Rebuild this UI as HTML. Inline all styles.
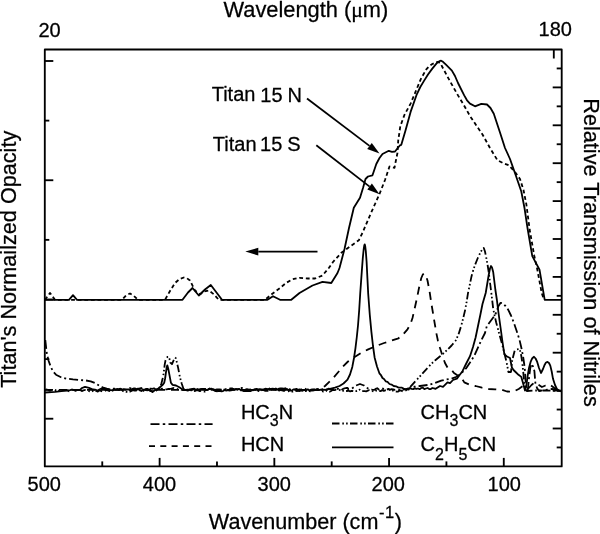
<!DOCTYPE html>
<html><head><meta charset="utf-8"><title>Titan opacity and nitrile transmission</title>
<style>html,body{margin:0;padding:0;background:#fff}svg{display:block}</style></head>
<body>
<svg width="600" height="534" viewBox="0 0 600 534">
<rect width="600" height="534" fill="#fff"/>
<g fill="none" stroke="#000" stroke-width="1.85" stroke-linejoin="round">
<rect x="44.8" y="49.5" width="516.9000000000001" height="416.9"/>
<line x1="102.26" y1="466.4" x2="102.26" y2="461.4"/><line x1="159.62" y1="466.4" x2="159.62" y2="457.9"/><line x1="216.98" y1="466.4" x2="216.98" y2="461.4"/><line x1="274.34" y1="466.4" x2="274.34" y2="457.9"/><line x1="331.70" y1="466.4" x2="331.70" y2="461.4"/><line x1="389.06" y1="466.4" x2="389.06" y2="457.9"/><line x1="446.42" y1="466.4" x2="446.42" y2="461.4"/><line x1="503.78" y1="466.4" x2="503.78" y2="457.9"/><line x1="553.8" y1="49.5" x2="553.8" y2="58.5"/><line x1="44.8" y1="61.00" x2="53.3" y2="61.00"/><line x1="44.8" y1="120.62" x2="49.3" y2="120.62"/><line x1="44.8" y1="180.24" x2="53.3" y2="180.24"/><line x1="44.8" y1="239.86" x2="49.3" y2="239.86"/><line x1="44.8" y1="299.48" x2="53.3" y2="299.48"/><line x1="44.8" y1="359.10" x2="49.3" y2="359.10"/><line x1="44.8" y1="418.72" x2="53.3" y2="418.72"/><line x1="561.7" y1="68.45" x2="556.7" y2="68.45"/><line x1="561.7" y1="87.40" x2="552.7" y2="87.40"/><line x1="561.7" y1="106.35" x2="556.7" y2="106.35"/><line x1="561.7" y1="125.30" x2="552.7" y2="125.30"/><line x1="561.7" y1="144.25" x2="556.7" y2="144.25"/><line x1="561.7" y1="163.20" x2="552.7" y2="163.20"/><line x1="561.7" y1="182.15" x2="556.7" y2="182.15"/><line x1="561.7" y1="201.10" x2="552.7" y2="201.10"/><line x1="561.7" y1="220.05" x2="556.7" y2="220.05"/><line x1="561.7" y1="239.00" x2="552.7" y2="239.00"/><line x1="561.7" y1="257.95" x2="556.7" y2="257.95"/><line x1="561.7" y1="276.90" x2="552.7" y2="276.90"/><line x1="561.7" y1="295.85" x2="556.7" y2="295.85"/><line x1="561.7" y1="314.80" x2="552.7" y2="314.80"/><line x1="561.7" y1="333.75" x2="556.7" y2="333.75"/><line x1="561.7" y1="352.70" x2="552.7" y2="352.70"/><line x1="561.7" y1="371.65" x2="556.7" y2="371.65"/><line x1="561.7" y1="390.60" x2="552.7" y2="390.60"/><line x1="561.7" y1="409.55" x2="556.7" y2="409.55"/><line x1="561.7" y1="428.50" x2="552.7" y2="428.50"/><line x1="561.7" y1="447.45" x2="556.7" y2="447.45"/>
</g>
<g fill="none" stroke="#000" stroke-width="1.8" stroke-linejoin="round" stroke-linecap="butt">
<polyline points="45.0,299.8 69.0,299.8 73.0,295.2 77.0,299.8 182.5,299.8 188.0,292.5 192.5,288.0 198.8,295.5 205.0,289.5 210.8,285.0 216.5,292.5 222.0,299.8 267.5,299.8 273.0,296.2 280.0,299.8 291.3,299.8 299.5,293.0 312.5,285.5 322.5,281.8 331.3,283.0 337.5,273.0 339.5,268.0 344.5,249.0 349.0,228.0 353.8,207.8 360.0,197.8 363.0,188.0 365.5,179.0 368.0,176.5 372.5,175.3 376.3,164.0 379.5,158.0 382.5,154.0 388.8,150.8 392.0,151.8 395.0,151.5 400.0,145.3 401.3,144.8 405.5,130.4 410.6,111.9 416.8,94.3 420.3,87.0 424.0,80.9 428.0,74.5 432.3,68.6 437.4,62.4 439.5,61.2 441.1,60.7 443.0,61.8 445.7,64.4 451.9,70.6 455.0,76.0 458.0,83.0 464.2,95.4 467.0,100.3 470.0,103.6 475.0,106.3 481.3,103.8 487.0,104.5 490.5,108.0 493.8,113.8 500.0,132.5 505.0,148.0 510.0,159.0 516.0,176.0 521.3,191.5 524.5,208.0 527.5,228.0 532.3,256.2 539.5,269.7 544.7,299.8 561.6,299.8" />
<polyline points="45.0,299.8 47.0,297.0 50.0,293.0 53.0,297.0 55.0,299.8 122.0,299.8 126.0,295.5 130.0,293.5 134.0,296.0 138.0,299.8 165.0,299.8 170.0,291.0 175.0,283.0 179.5,279.0 183.8,277.5 187.0,278.3 190.0,280.5 195.0,290.5 200.0,294.3 204.5,291.5 208.8,290.5 213.8,294.3 218.8,299.8 265.0,299.8 272.0,294.0 280.0,288.0 286.0,283.0 292.5,279.3 299.5,277.8 308.0,278.5 315.0,278.5 322.5,275.5 328.8,268.0 333.0,262.0 341.3,252.8 350.0,246.5 358.8,240.3 362.5,232.8 371.0,213.0 379.5,194.0 385.0,180.0 389.5,166.5 394.5,167.8 396.0,160.0 397.5,152.8 398.2,140.7 400.3,126.3 404.4,115.0 410.6,103.6 415.8,91.2 420.9,78.9 426.1,69.6 429.0,66.3 432.3,64.0 436.0,62.3 438.5,62.0 440.5,63.5 442.6,67.5 449.8,80.9 458.0,95.4 464.2,105.7 470.0,116.0 476.0,125.0 482.5,134.5 490.0,148.0 497.5,160.3 503.0,163.0 508.8,165.3 515.0,172.0 520.0,179.0 523.5,190.0 526.3,204.0 529.7,230.0 534.2,255.5 537.2,269.0 541.7,293.0 544.0,299.8" stroke-dasharray="3.8 2.8"/>
<polyline points="45.0,392.5 55.0,391.8 70.0,390.2 72.0,389.7 73.6,389.9 75.2,390.6 76.8,390.1 78.4,390.0 80.0,390.0 80.0,389.8 82.0,388.0 85.0,386.8 89.0,387.8 93.0,389.5 95.0,389.7 96.6,390.1 98.2,390.3 99.8,389.3 101.4,388.6 103.0,388.9 104.6,388.9 106.2,390.0 107.8,390.3 109.4,390.2 111.0,390.1 112.6,390.3 114.2,389.3 115.8,389.4 117.4,388.9 119.0,390.2 120.6,389.1 122.2,390.1 123.8,389.1 125.4,389.8 127.0,389.5 128.6,389.4 130.2,390.3 131.8,389.1 133.4,388.5 135.0,390.0 136.6,389.9 138.2,389.0 139.8,390.4 141.4,391.0 143.0,389.6 144.6,389.6 146.2,388.9 147.8,389.0 149.4,389.6 150.0,389.8 152.4,392.0 154.5,390.5 156.9,389.4 159.0,388.0 161.3,386.0 163.0,384.5 164.2,382.7 165.1,378.5 165.8,373.7 166.6,368.0 167.3,365.3 168.2,368.5 169.2,373.7 170.9,382.7 172.6,384.9 176.0,385.5 179.3,387.2 182.7,389.4 183.0,389.3 184.6,389.9 186.2,390.2 187.8,390.7 189.4,389.6 191.0,389.2 192.6,388.8 194.2,388.7 195.8,389.7 197.4,389.0 199.0,389.5 200.6,389.1 202.2,389.0 203.8,389.3 205.4,390.2 207.0,390.2 208.6,389.0 210.2,389.0 211.8,388.7 213.4,390.0 215.0,390.5 216.6,390.8 218.2,391.0 219.8,390.9 221.4,391.3 223.0,391.1 224.6,390.0 226.2,390.6 227.8,390.2 229.4,390.5 231.0,390.3 232.6,389.9 234.2,389.6 235.8,389.5 237.4,389.3 239.0,388.8 240.6,389.9 242.2,390.5 243.8,391.1 245.4,390.9 247.0,390.4 248.6,390.6 250.2,389.5 251.8,390.0 253.4,389.8 255.0,389.1 256.6,388.9 258.2,389.4 259.8,389.1 261.4,389.4 263.0,389.8 264.6,389.6 266.2,388.9 267.8,389.4 269.4,389.0 271.0,388.9 272.6,388.7 274.2,389.0 275.8,388.5 277.4,389.5 279.0,390.6 280.6,390.0 282.2,390.3 283.8,390.9 285.4,389.4 287.0,388.9 288.6,390.0 290.2,390.6 291.8,390.5 293.4,389.4 295.0,389.4 296.6,390.4 298.2,390.9 299.8,391.0 301.4,389.8 303.0,390.5 304.6,389.9 306.2,390.3 307.8,389.3 309.4,390.5 311.0,390.4 312.6,390.5 314.2,389.6 315.8,389.9 317.4,390.0 319.0,390.1 320.6,389.7 322.2,390.2 323.8,389.7 325.0,389.8 330.0,388.8 335.0,387.6 339.5,386.0 343.5,383.5 347.5,379.7 350.0,374.5 352.3,366.9 354.0,358.0 355.5,347.8 356.8,337.0 358.0,325.5 359.2,310.0 360.2,293.7 361.8,271.4 362.8,258.0 363.6,250.0 364.2,245.8 364.7,244.3 365.2,246.0 365.8,251.0 366.6,261.8 367.4,278.0 368.2,293.7 369.8,315.0 371.4,331.9 373.0,346.0 374.6,357.4 377.0,366.5 379.4,373.3 381.0,375.2 382.5,378.0 384.0,379.0 385.7,381.3 387.5,381.8 389.5,384.0 391.5,384.6 393.7,386.0 396.0,386.3 398.5,387.6 400.0,387.6 402.0,387.7 403.6,388.6 405.2,389.0 406.8,389.8 408.4,388.7 410.0,388.1 411.6,388.9 413.2,389.1 414.8,388.4 416.4,388.9 418.0,388.5 419.6,389.2 421.2,388.0 422.8,387.6 424.4,389.1 426.0,388.5 427.6,388.0 429.2,389.0 430.8,389.1 432.4,388.0 434.0,388.4 435.6,388.9 436.0,388.6 440.0,386.0 443.0,386.8 447.5,382.4 450.0,383.2 453.0,380.0 456.9,378.7 460.0,374.5 462.5,371.2 466.0,364.0 470.0,356.2 473.0,347.0 475.6,337.5 478.0,326.0 480.3,315.0 482.5,304.0 485.7,293.0 488.7,275.0 490.0,268.5 491.0,266.0 492.0,267.5 493.2,272.0 495.4,290.0 496.9,300.0 498.5,313.0 500.6,328.0 502.5,342.0 504.4,354.4 507.0,356.5 510.0,358.0 511.9,367.5 513.5,370.0 515.6,372.0 518.5,374.8 521.3,376.9 523.0,383.0 525.0,390.5 526.3,386.0 527.8,375.0 529.0,368.0 530.6,361.9 532.3,358.2 534.0,356.8 535.6,358.5 537.2,361.9 539.0,368.0 541.0,373.0 543.0,369.0 544.7,364.7 546.0,362.5 547.5,361.9 549.0,363.0 550.3,365.6 551.7,371.5 553.0,378.8 555.0,385.0 556.9,389.0 559.0,390.8 561.6,391.5" />
<polyline points="45.0,389.9 320.0,389.9 325.0,386.0 333.2,378.0 342.7,366.9 348.0,361.5 353.9,357.4 361.0,353.0 368.2,349.4 376.0,346.0 384.1,343.0 391.0,340.8 398.5,338.3 403.0,334.5 407.5,329.3 410.5,324.0 412.5,318.0 415.0,307.0 417.5,295.5 419.5,285.5 421.3,278.0 422.8,274.5 424.3,273.5 425.8,275.5 427.5,280.5 429.5,291.0 431.3,303.0 433.8,318.0 436.3,333.0 438.0,341.0 440.0,348.0 442.5,356.0 445.0,363.0 447.5,367.5 449.4,369.3 452.0,370.5 454.0,373.0 457.0,375.0 460.6,376.8 462.5,379.5 464.3,382.4 469.0,384.5 475.6,386.0 482.0,387.7 488.7,389.0 495.0,389.4 501.8,389.8 507.0,391.5 513.0,391.8 518.7,389.0 523.0,386.0 526.0,388.5 528.8,388.0 531.5,385.0 534.4,382.5 538.0,384.5 541.9,387.0 545.5,385.5 549.4,384.4 553.0,387.0 556.9,390.0 561.6,391.0" stroke-dasharray="8 6"/>
<polyline points="45.3,340.0 46.7,353.0 48.5,360.5 50.7,366.7 53.0,371.5 56.0,374.7 61.0,377.2 66.7,378.7 73.0,379.4 80.0,380.0 86.0,380.5 90.7,381.3 95.0,383.0 98.7,385.3 102.5,387.3 106.7,388.7 112.0,389.6 114.0,388.5 115.6,389.1 117.2,389.3 118.8,389.2 120.4,388.7 122.0,389.4 123.6,389.8 125.2,389.5 126.8,389.3 128.4,388.7 130.0,388.1 131.6,388.4 133.2,388.9 134.8,388.3 136.4,389.2 138.0,388.7 139.6,388.4 141.2,388.0 142.8,389.4 144.4,389.7 146.0,390.0 147.6,389.8 149.2,388.6 150.8,388.6 152.4,388.8 154.0,388.3 155.6,389.5 157.2,389.1 158.8,388.5 160.4,389.3 162.0,388.6 163.6,389.6 165.2,389.3 166.8,389.3 168.4,388.9 170.0,389.0 171.6,388.5 173.2,388.0 174.8,389.2 176.4,388.7 178.0,389.4 179.6,388.7 181.2,389.7 182.8,390.1 184.4,390.0 186.0,390.0 187.6,389.7 189.2,389.8 190.8,388.8 192.4,388.9 194.0,389.6 195.6,388.8 197.2,389.7 198.8,390.0 200.4,389.4 202.0,389.0 203.6,389.0 205.2,388.8 206.8,389.8 208.4,389.3 210.0,388.4 211.6,388.0 213.2,388.9 214.8,389.9 216.4,389.5 218.0,389.3 219.6,389.3 221.2,389.6 222.8,388.9 224.4,389.2 226.0,389.2 227.6,389.4 229.2,388.7 230.8,388.3 232.4,388.5 234.0,389.5 235.6,389.0 237.2,389.2 238.8,388.8 240.4,388.3 242.0,388.0 243.6,389.1 245.2,389.6 246.8,389.1 248.4,389.4 250.0,389.6 251.6,390.0 253.2,390.3 254.8,389.6 256.4,390.2 258.0,390.4 259.6,389.9 261.2,390.2 262.8,389.6 264.4,389.1 266.0,388.7 267.6,389.5 269.2,388.7 270.8,388.2 272.4,389.2 274.0,389.6 275.6,389.3 277.2,389.8 278.8,388.7 280.4,388.5 282.0,388.4 283.6,388.6 285.2,388.3 286.8,388.0 288.4,388.3 290.0,389.4 291.6,390.1 293.2,390.0 294.8,389.5 296.4,388.9 298.0,389.8 299.6,389.5 301.2,389.7 302.8,388.6 304.4,388.4 306.0,389.3 307.6,389.7 309.2,390.0 310.8,389.7 312.4,389.3 314.0,389.3 315.6,389.8 317.2,389.1 318.8,389.2 320.4,388.8 322.0,389.4 323.6,388.4 325.2,389.1 326.8,389.9 328.4,388.7 330.0,389.0 331.6,389.3 333.2,389.8 334.8,389.6 336.4,388.9 338.0,388.9 339.6,389.8 341.2,390.1 342.8,389.0 344.4,388.4 346.0,388.0 347.6,387.8 348.0,389.1 352.0,388.5 356.0,385.5 360.0,384.0 364.0,385.5 368.0,388.5 372.0,389.6 374.0,389.9 375.6,388.9 377.2,388.2 378.8,389.5 380.4,388.8 382.0,388.3 383.6,388.9 385.2,388.8 386.8,389.6 388.4,388.9 390.0,389.8 391.6,389.1 393.2,389.3 394.8,389.9 396.4,389.8 398.0,390.2 399.6,390.0 401.2,388.8 402.8,389.6 404.4,389.5 406.0,389.0 407.6,388.5 408.0,389.1 412.4,386.9 420.0,386.0 428.9,384.8 435.0,383.0 441.2,380.7 446.0,379.5 451.5,378.7 456.0,377.0 459.8,374.5 463.0,371.5 466.0,368.4 470.0,362.5 474.2,356.0 477.5,348.7 481.0,341.0 485.0,333.0 486.8,326.2 491.0,320.5 494.0,316.5 496.0,313.0 498.5,306.0 500.6,302.8 503.0,303.5 505.5,306.0 508.0,309.4 511.0,315.5 513.8,322.5 516.5,330.5 519.4,339.4 521.3,347.5 523.0,356.0 524.2,364.0 525.0,371.0 525.6,381.0 526.0,390.0 527.8,390.0 529.0,378.0 530.3,368.0 531.5,363.8 533.0,366.5 534.4,371.0 535.3,382.5 537.0,388.0 539.0,391.0 545.0,390.0 552.0,389.0 561.6,391.0" stroke-dasharray="9 3 2 3"/>
<polyline points="45.0,389.8 46.6,389.5 48.2,389.9 49.8,390.6 51.4,390.0 53.0,389.6 54.6,389.7 56.2,390.6 57.8,390.0 59.4,390.7 61.0,390.9 62.6,390.1 64.2,390.4 65.8,390.4 67.4,390.4 69.0,391.3 70.6,390.3 72.2,389.6 73.8,390.9 75.4,390.6 77.0,390.1 78.6,390.0 80.2,390.1 81.8,391.1 83.4,390.4 85.0,390.0 86.6,390.4 88.2,390.6 89.8,391.4 91.4,391.6 93.0,390.8 94.6,390.2 96.2,391.0 97.8,391.6 99.4,390.3 101.0,390.9 102.6,391.4 104.2,391.2 105.8,390.4 107.4,391.0 109.0,391.2 110.6,390.4 112.2,390.7 113.8,390.2 115.4,389.6 117.0,389.8 118.6,389.9 120.2,390.1 121.8,390.6 123.4,391.2 125.0,391.7 126.6,391.9 128.2,392.1 129.8,391.8 131.4,390.9 133.0,390.2 134.6,390.6 136.2,390.7 137.8,390.9 139.4,390.1 141.0,389.8 142.6,390.9 144.2,390.9 145.8,391.1 147.4,390.2 149.0,390.2 150.6,391.1 152.2,391.1 153.8,391.7 155.4,390.6 156.0,390.6 158.7,389.3 161.3,383.8 162.5,379.3 163.6,373.7 164.7,364.7 165.5,360.5 166.4,358.0 167.5,357.0 168.7,356.9 169.5,359.0 170.3,362.5 172.0,364.2 173.7,360.2 175.0,357.4 175.8,358.2 176.5,360.8 178.2,368.1 179.9,377.1 181.6,383.3 183.3,388.3 185.0,389.8 187.0,389.9 188.6,389.8 190.2,389.8 191.8,390.9 193.4,390.7 195.0,391.0 196.6,390.1 198.2,390.4 199.8,391.1 201.4,390.9 203.0,391.5 204.6,391.7 206.2,390.9 207.8,389.9 209.4,390.7 211.0,390.0 212.6,389.5 214.2,390.4 215.8,391.1 217.4,391.4 219.0,391.8 220.6,390.7 222.2,389.9 223.8,389.6 225.4,390.9 227.0,390.1 228.6,389.8 230.2,389.4 231.8,389.2 233.4,389.1 235.0,389.6 236.6,389.5 238.2,389.7 239.8,390.9 241.4,390.2 243.0,390.9 244.6,391.2 246.2,391.0 247.8,390.9 249.4,391.2 251.0,391.1 252.6,390.4 254.2,390.2 255.8,390.0 257.4,390.1 259.0,391.2 260.6,390.8 262.2,390.0 263.8,390.2 265.4,390.9 267.0,390.7 268.6,391.0 270.2,390.1 271.8,389.6 273.4,390.4 275.0,389.7 276.6,389.8 278.2,390.0 279.8,389.8 281.4,389.4 283.0,389.2 284.6,390.6 286.2,390.9 287.8,391.5 289.4,391.1 291.0,391.6 292.6,391.7 294.2,391.4 295.8,391.0 297.4,390.8 299.0,390.2 300.6,390.2 302.2,390.8 303.8,390.2 305.4,391.0 307.0,390.8 308.6,390.9 310.2,391.3 311.8,391.2 313.4,390.3 315.0,390.0 316.6,389.5 318.2,389.2 319.8,390.7 321.4,390.8 323.0,391.5 324.6,391.5 326.2,390.7 327.8,391.5 329.4,391.8 331.0,391.1 332.6,390.1 334.2,390.1 335.8,389.8 337.4,390.0 339.0,389.6 340.6,390.4 342.2,391.3 343.8,390.5 345.4,391.0 347.0,391.0 348.6,390.7 350.2,391.4 351.8,390.8 353.4,391.2 355.0,390.1 356.6,391.2 358.2,390.3 359.8,389.6 361.4,390.8 363.0,391.1 364.6,391.1 366.2,391.3 367.8,390.7 369.4,390.0 371.0,390.0 372.6,391.1 374.2,391.7 375.8,390.7 377.4,390.5 379.0,390.5 380.6,391.2 382.2,390.1 383.8,390.9 385.4,390.3 387.0,390.5 388.6,389.9 390.2,389.6 391.8,390.7 393.4,390.7 395.0,391.4 396.6,391.6 398.2,391.5 399.8,390.4 401.4,390.6 403.0,391.5 404.6,391.0 406.2,390.1 407.8,389.8 408.0,390.6 410.3,386.9 415.5,381.2 420.6,375.6 425.8,369.9 430.9,364.2 435.0,360.5 439.2,357.0 443.3,353.5 447.4,349.8 451.6,345.5 455.7,340.5 458.5,334.5 460.8,327.1 463.0,319.0 465.0,310.6 466.6,302.0 468.0,293.1 469.5,286.0 471.5,276.4 473.3,270.0 475.2,264.5 477.8,258.0 480.4,252.5 482.3,249.3 483.8,248.0 485.0,251.5 486.4,258.5 487.6,265.0 488.7,272.0 490.2,284.0 491.7,296.0 493.2,308.7 494.7,316.0 496.2,322.5 499.0,333.0 501.8,343.0 504.2,352.5 506.5,361.8 507.5,367.0 508.4,372.0 511.0,372.0 511.9,361.9 513.3,356.0 514.7,350.6 517.0,349.3 519.4,349.0 520.5,352.0 521.3,356.0 522.2,362.0 523.0,369.4 524.0,380.0 525.0,389.0 527.0,391.0 535.0,390.5 545.0,390.5 561.6,391.0" stroke-dasharray="7.5 2.8 1.6 2.2 1.6 2.3"/>
<line x1="150.5" y1="424.1" x2="212.6" y2="424.1" stroke-dasharray="9 3.25 2.5 3.25"/>
<line x1="149" y1="446.1" x2="212" y2="446.1" stroke-dasharray="6 5.3"/>
<line x1="332" y1="423.5" x2="393.5" y2="423.5" stroke-dasharray="7.5 2.8 1.6 2.2 1.6 2.3"/>
<line x1="332" y1="447.3" x2="393.5" y2="447.3"/>
<line x1="307.0" y1="98.5" x2="369.5" y2="145.9"/><polygon points="379.5,153.5 367.2,149.0 371.8,142.9" fill="#000" stroke="none"/>
<line x1="316.3" y1="145.3" x2="369.6" y2="186.6"/><polygon points="379.5,194.3 367.3,189.6 371.9,183.6" fill="#000" stroke="none"/>
<line x1="317.5" y1="251.6" x2="258.3" y2="251.6"/><polygon points="245.3,251.6 258.3,247.8 258.3,255.4" fill="#000" stroke="none"/>
</g>
<g font-family="'Liberation Sans', Arial, sans-serif" fill="#000" stroke="#000" stroke-width="0.28" stroke-linejoin="round">
<g font-size="20px">
<text transform="translate(49.6,36.5) scale(1.0,1)" text-anchor="middle">20</text>
<text transform="translate(555.3,36.3) scale(1.0,1)" text-anchor="middle">180</text>
<text transform="translate(44.2,491) scale(1.0,1)" text-anchor="middle">500</text>
<text transform="translate(159.5,491) scale(1.0,1)" text-anchor="middle">400</text>
<text transform="translate(274.2,491) scale(1.0,1)" text-anchor="middle">300</text>
<text transform="translate(388.3,491) scale(1.0,1)" text-anchor="middle">200</text>
<text transform="translate(504.2,491) scale(1.0,1)" text-anchor="middle">100</text>
<text transform="translate(211.7,100.8) scale(1.0,1)">Titan</text>
<text transform="translate(260.3,101.8) scale(1.0,1)">15</text>
<text transform="translate(287.4,101.8) scale(1.0,1)">N</text>
<text transform="translate(212.8,151) scale(1.0,1)">Titan</text>
<text transform="translate(260.1,151.3) scale(1.0,1)">15</text>
<text transform="translate(287.2,151.3) scale(1.0,1)">S</text>
<text transform="translate(240.9,418.7) scale(1.0,1)">HC<tspan font-size="16px" dy="7.5">3</tspan><tspan dy="-7.5">N</tspan></text>
<text transform="translate(240.9,450.8) scale(1.0,1)">HCN</text>
<text transform="translate(420.6,418.7) scale(1.0,1)">CH<tspan font-size="16px" dy="7.5">3</tspan><tspan dy="-7.5">CN</tspan></text>
<text transform="translate(420.6,451) scale(1.0,1)">C<tspan font-size="16px" dy="8.5">2</tspan><tspan dy="-8.5">H</tspan><tspan font-size="16px" dy="8.5">5</tspan><tspan dy="-8.5">CN</tspan></text>
</g>
<g font-size="21.6px">
<text x="305.9" y="16.9" text-anchor="middle" font-size="21.8px">Wavelength (<tspan font-family="'Liberation Serif', serif">&#956;</tspan>m)</text>
<text x="208.8" y="528.8">Wavenumber (cm<tspan font-size="16.5px" dy="-11.3" dx="0.5" letter-spacing="0.5">-1</tspan><tspan dy="11.3" dx="0.2">)</tspan></text>
<text transform="translate(15.7,259.3) rotate(-90)" text-anchor="middle" font-size="21.65px">Titan's Normailzed Opacity</text>
<text transform="translate(584,252.5) rotate(90)" text-anchor="middle" font-size="21.7px">Relative Transmission of Nitriles</text>
</g>
</g>
</svg>
</body></html>
